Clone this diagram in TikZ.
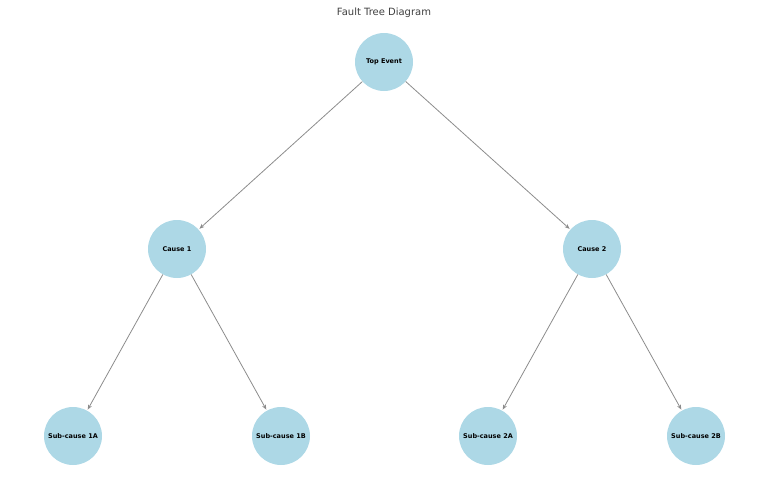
\documentclass[tikz,border=0pt]{standalone}
\usepackage{fontspec}
\setmainfont{DejaVu Sans}
\usetikzlibrary{arrows.meta}
\definecolor{nodeblue}{HTML}{ADD8E6}
\definecolor{edgegray}{HTML}{8C8C8C}
\definecolor{titlegray}{HTML}{404040}
\tikzset{
  evt/.style={circle, fill=nodeblue, minimum size=58pt, inner sep=0pt, font=\bfseries\fontsize{6.5}{7}\selectfont},
  conn/.style={draw=edgegray, line width=0.8pt, -{Stealth[length=5pt,width=4pt]}, shorten >=1pt}
}
\begin{document}
\begin{tikzpicture}[x=1pt,y=-1pt]
\useasboundingbox (0,0) rectangle (768,483);
\node[font=\fontsize{10}{12}\selectfont, text=titlegray] (title) at (384,13) {Fault Tree Diagram};
\node[evt] (top) at (384,62) {Top Event};
\node[evt] (c1) at (177,249) {Cause 1};
\node[evt] (c2) at (592,249) {Cause 2};
\node[evt] (s1a) at (73,436) {Sub-cause 1A};
\node[evt] (s1b) at (281,436) {Sub-cause 1B};
\node[evt] (s2a) at (488,436) {Sub-cause 2A};
\node[evt] (s2b) at (696,436) {Sub-cause 2B};
\draw[conn] (top) -- (c1);
\draw[conn] (top) -- (c2);
\draw[conn] (c1) -- (s1a);
\draw[conn] (c1) -- (s1b);
\draw[conn] (c2) -- (s2a);
\draw[conn] (c2) -- (s2b);
\end{tikzpicture}
\end{document}
